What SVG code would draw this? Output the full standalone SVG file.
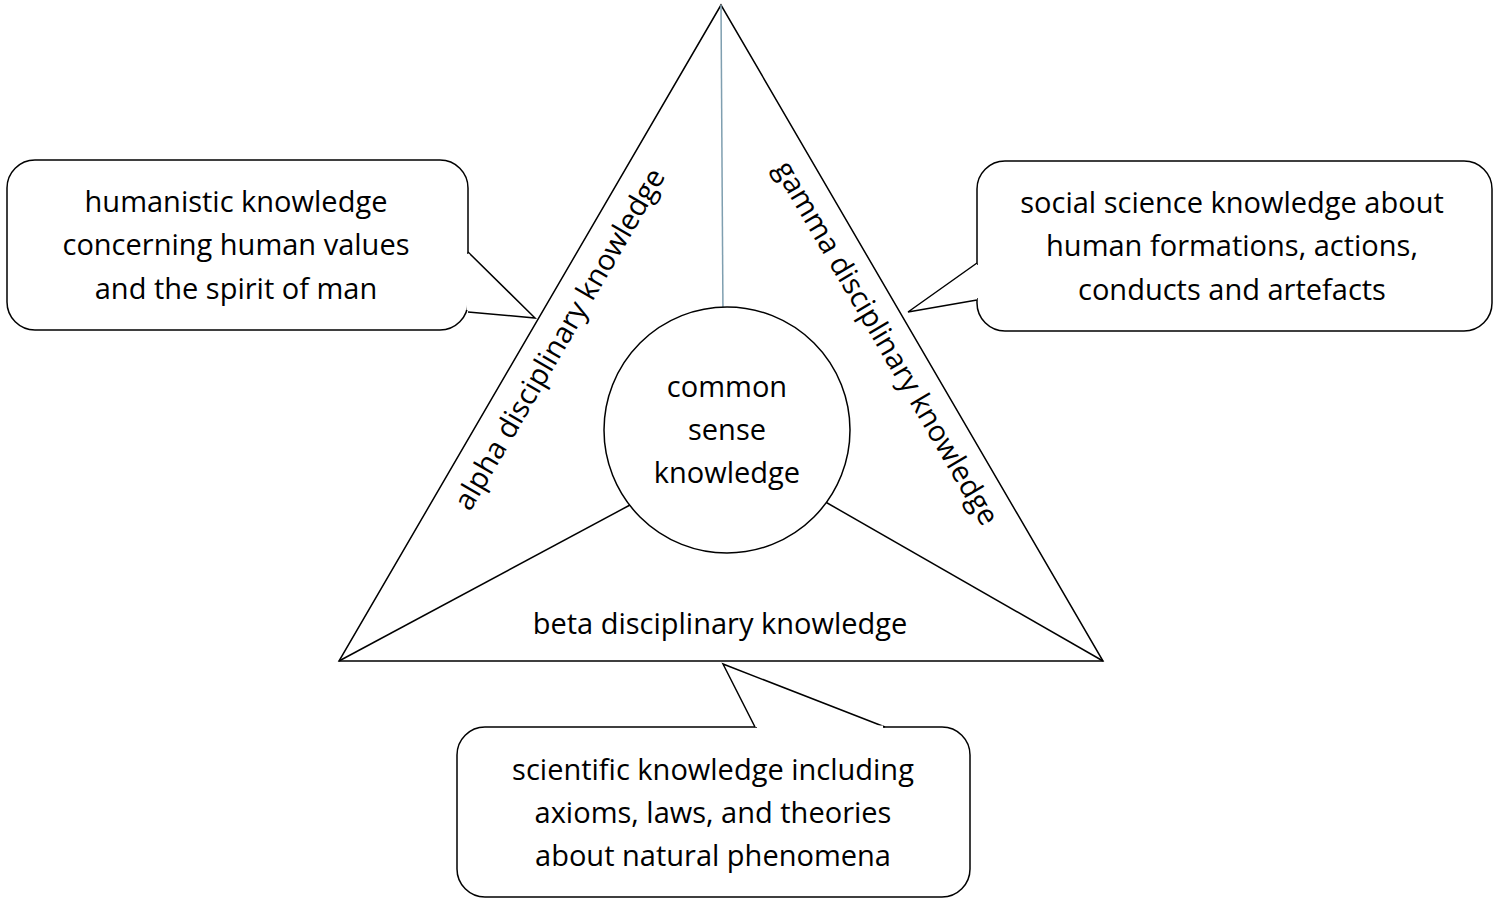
<svg xmlns="http://www.w3.org/2000/svg" width="1500" height="900" viewBox="0 0 1500 900">
<style>
.s{fill:none;stroke:#000;stroke-width:1.5}
.b{fill:#fff;stroke:#000;stroke-width:1.5}
text{font-family:"Open Sans","Noto Sans",sans-serif;font-size:29px;fill:#000;text-anchor:middle}
</style>
<rect width="1500" height="900" fill="#fff"/>
<g id="triangle">
<polygon class="s" points="721,5 339,661 1103,661"/>
<line x1="721" y1="5" x2="723" y2="318" stroke="#7f9fb0" stroke-width="1.5"/>
<text transform="translate(568,344) rotate(-59.8)">alpha disciplinary knowledge</text>
<text transform="translate(878,348) rotate(59.8)">gamma disciplinary knowledge</text>
<text x="720" y="634">beta disciplinary knowledge</text>
</g>
<g id="connectors">
<line class="s" x1="630" y1="505" x2="339" y2="661"/>
<line class="s" x1="822" y1="500" x2="1103" y2="661"/>
</g>
<g id="common">
<circle class="b" cx="727" cy="430" r="123"/>
<text x="727" y="397">common</text>
<text x="727" y="440">sense</text>
<text x="727" y="483">knowledge</text>
</g>
<g id="alpha-callout">
<rect class="b" x="7" y="160" width="461" height="170" rx="28"/>
<polyline points="468,252 535,318 468,312" fill="#fff" stroke="#000" stroke-width="1.5"/>
<line x1="468" y1="254" x2="468" y2="310" stroke="#fff" stroke-width="3"/>
<text x="236" y="212">humanistic knowledge</text>
<text x="236" y="255">concerning human values</text>
<text x="236" y="299">and the spirit of man</text>
</g>
<g id="gamma-callout">
<rect class="b" x="977" y="161" width="515" height="170" rx="28"/>
<polyline points="977,263 908,312 977,300" fill="#fff" stroke="#000" stroke-width="1.5"/>
<line x1="977" y1="265" x2="977" y2="298" stroke="#fff" stroke-width="3"/>
<text x="1232" y="213">social science knowledge about</text>
<text x="1232" y="256">human formations, actions,</text>
<text x="1232" y="300">conducts and artefacts</text>
</g>
<g id="beta-callout">
<rect class="b" x="457" y="727" width="513" height="170" rx="28"/>
<polyline points="755,727 723,664 885,727" fill="#fff" stroke="#000" stroke-width="1.5"/>
<line x1="757" y1="727" x2="883" y2="727" stroke="#fff" stroke-width="3"/>
<text x="713" y="780">scientific knowledge including</text>
<text x="713" y="823">axioms, laws, and theories</text>
<text x="713" y="866">about natural phenomena</text>
</g>
</svg>
